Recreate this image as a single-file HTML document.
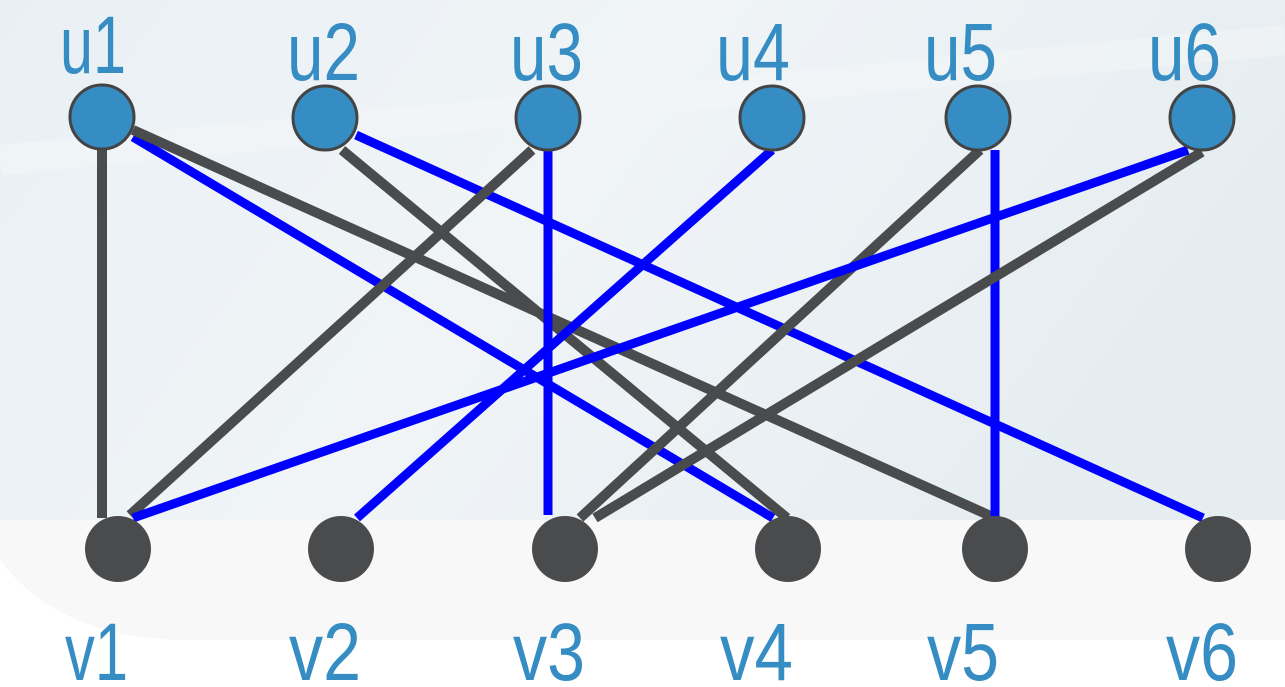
<!DOCTYPE html>
<html><head><style>
html,body{margin:0;padding:0;width:1285px;height:687px;overflow:hidden;background:#fff}
</style></head><body>
<svg width="1285" height="687" viewBox="0 0 1285 687" xmlns="http://www.w3.org/2000/svg">
<defs>
<linearGradient id="bg" x1="0" y1="0" x2="1" y2="0.3">
<stop offset="0" stop-color="#e9f0f4"/><stop offset="0.5" stop-color="#f0f4f7"/><stop offset="1" stop-color="#e6edf1"/>
</linearGradient>
</defs>
<rect x="0" y="0" width="1285" height="520" fill="url(#bg)"/>
<path d="M0 520 H1285 V640 H190 Q60 640 0 560 Z" fill="#f8f8f8"/>
<path d="M0 160 L1285 40" stroke="#f4f7f9" stroke-width="30" opacity="0.5"/>
<g stroke-linecap="butt" fill="none">
<line x1="102" y1="150" x2="102" y2="518" stroke="#4a4b4d" stroke-width="10"/>
<line x1="133" y1="137" x2="773" y2="518" stroke="#0000ff" stroke-width="9"/>
<line x1="133" y1="130" x2="995" y2="518" stroke="#4a4b4d" stroke-width="10"/>
<line x1="342" y1="150" x2="787" y2="518" stroke="#4a4b4d" stroke-width="10"/>
<line x1="356" y1="135" x2="1203" y2="518" stroke="#0000ff" stroke-width="9"/>
<line x1="532" y1="150" x2="130" y2="515" stroke="#4a4b4d" stroke-width="10"/>
<line x1="548" y1="150" x2="548" y2="515" stroke="#0000ff" stroke-width="9"/>
<line x1="772" y1="150" x2="357" y2="518" stroke="#0000ff" stroke-width="9"/>
<line x1="980" y1="150" x2="580" y2="518" stroke="#4a4b4d" stroke-width="10"/>
<line x1="995" y1="150" x2="995" y2="518" stroke="#0000ff" stroke-width="9"/>
<line x1="1188" y1="150" x2="133" y2="518" stroke="#0000ff" stroke-width="9"/>
<line x1="1202" y1="152" x2="595" y2="518" stroke="#4a4b4d" stroke-width="10"/>
</g>
<g fill="#368dc3" stroke="#444" stroke-width="3">
<circle cx="102" cy="117" r="32"/><circle cx="325" cy="118" r="32"/><circle cx="548" cy="118" r="32"/>
<circle cx="772" cy="118" r="32"/><circle cx="978" cy="118" r="32"/><circle cx="1202" cy="118" r="32"/>
</g>
<g fill="#4a4b4d">
<circle cx="118" cy="549" r="33"/><circle cx="341" cy="549" r="33"/><circle cx="565" cy="549" r="33"/>
<circle cx="788" cy="549" r="33"/><circle cx="995" cy="549" r="33"/><circle cx="1218" cy="549" r="33"/>
</g>
<g fill="#368dc3" font-family="Liberation Sans, sans-serif" font-size="82" lengthAdjust="spacingAndGlyphs">
<text x="60" y="73" textLength="66" lengthAdjust="spacingAndGlyphs">u1</text>
<text x="287" y="80" textLength="73" lengthAdjust="spacingAndGlyphs">u2</text>
<text x="510" y="80" textLength="73" lengthAdjust="spacingAndGlyphs">u3</text>
<text x="716" y="80" textLength="74" lengthAdjust="spacingAndGlyphs">u4</text>
<text x="924" y="80" textLength="73" lengthAdjust="spacingAndGlyphs">u5</text>
<text x="1148" y="80" textLength="73" lengthAdjust="spacingAndGlyphs">u6</text>
<text x="65" y="680" textLength="63" lengthAdjust="spacingAndGlyphs">v1</text>
<text x="289" y="680" textLength="72" lengthAdjust="spacingAndGlyphs">v2</text>
<text x="513" y="680" textLength="72" lengthAdjust="spacingAndGlyphs">v3</text>
<text x="720" y="680" textLength="73" lengthAdjust="spacingAndGlyphs">v4</text>
<text x="927" y="680" textLength="72" lengthAdjust="spacingAndGlyphs">v5</text>
<text x="1166" y="680" textLength="72" lengthAdjust="spacingAndGlyphs">v6</text>
</g>
</svg>
</body></html>
